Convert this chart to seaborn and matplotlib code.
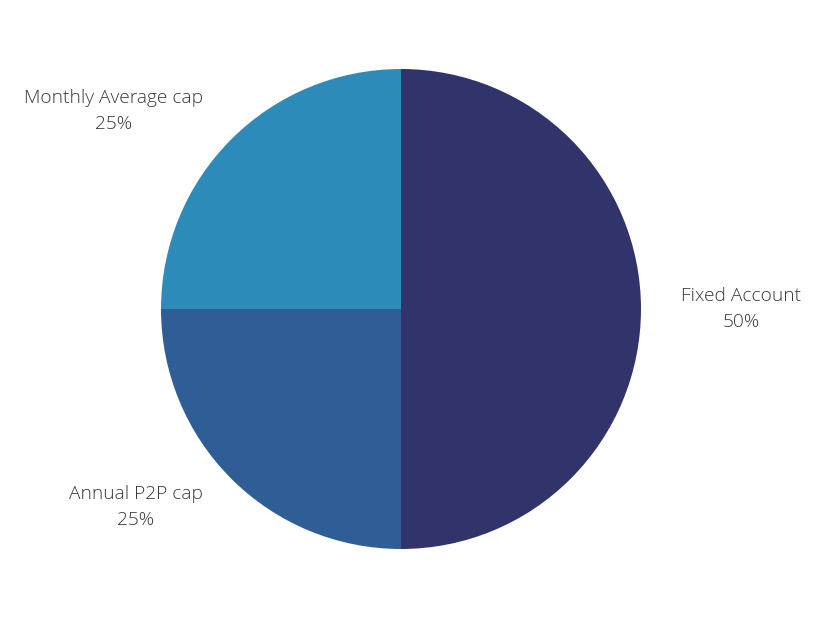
import seaborn as sns
import matplotlib.pyplot as plt

# data
labels = ['Fixed Account', 'Annual P2P cap', 'Monthly Average cap']
shares = [50, 25, 25]
colors = ['#30346B', '#2E5E95', '#2D8BBA']

sns.set_theme(style='white')
plt.rcParams['font.family'] = ['Open Sans', 'DejaVu Sans']

fig = plt.figure(figsize=(8.25, 6.18), dpi=100)
ax = fig.add_axes([161 / 825, 69 / 618, 480 / 825, 480 / 618])

pie_labels = ['{}\n{}%'.format(l, s) for l, s in zip(labels, shares)]
ax.pie(shares, labels=pie_labels, colors=colors, startangle=90, counterclock=False,
       labeldistance=1.167, wedgeprops={'linewidth': 0},
       textprops={'fontsize': 13.8, 'color': '#383838', 'fontweight': 'light',
                  'multialignment': 'center', 'linespacing': 1.6})
ax.set_xlim(-1, 1)
ax.set_ylim(-1, 1)

fig.savefig('out.png', dpi=100)
